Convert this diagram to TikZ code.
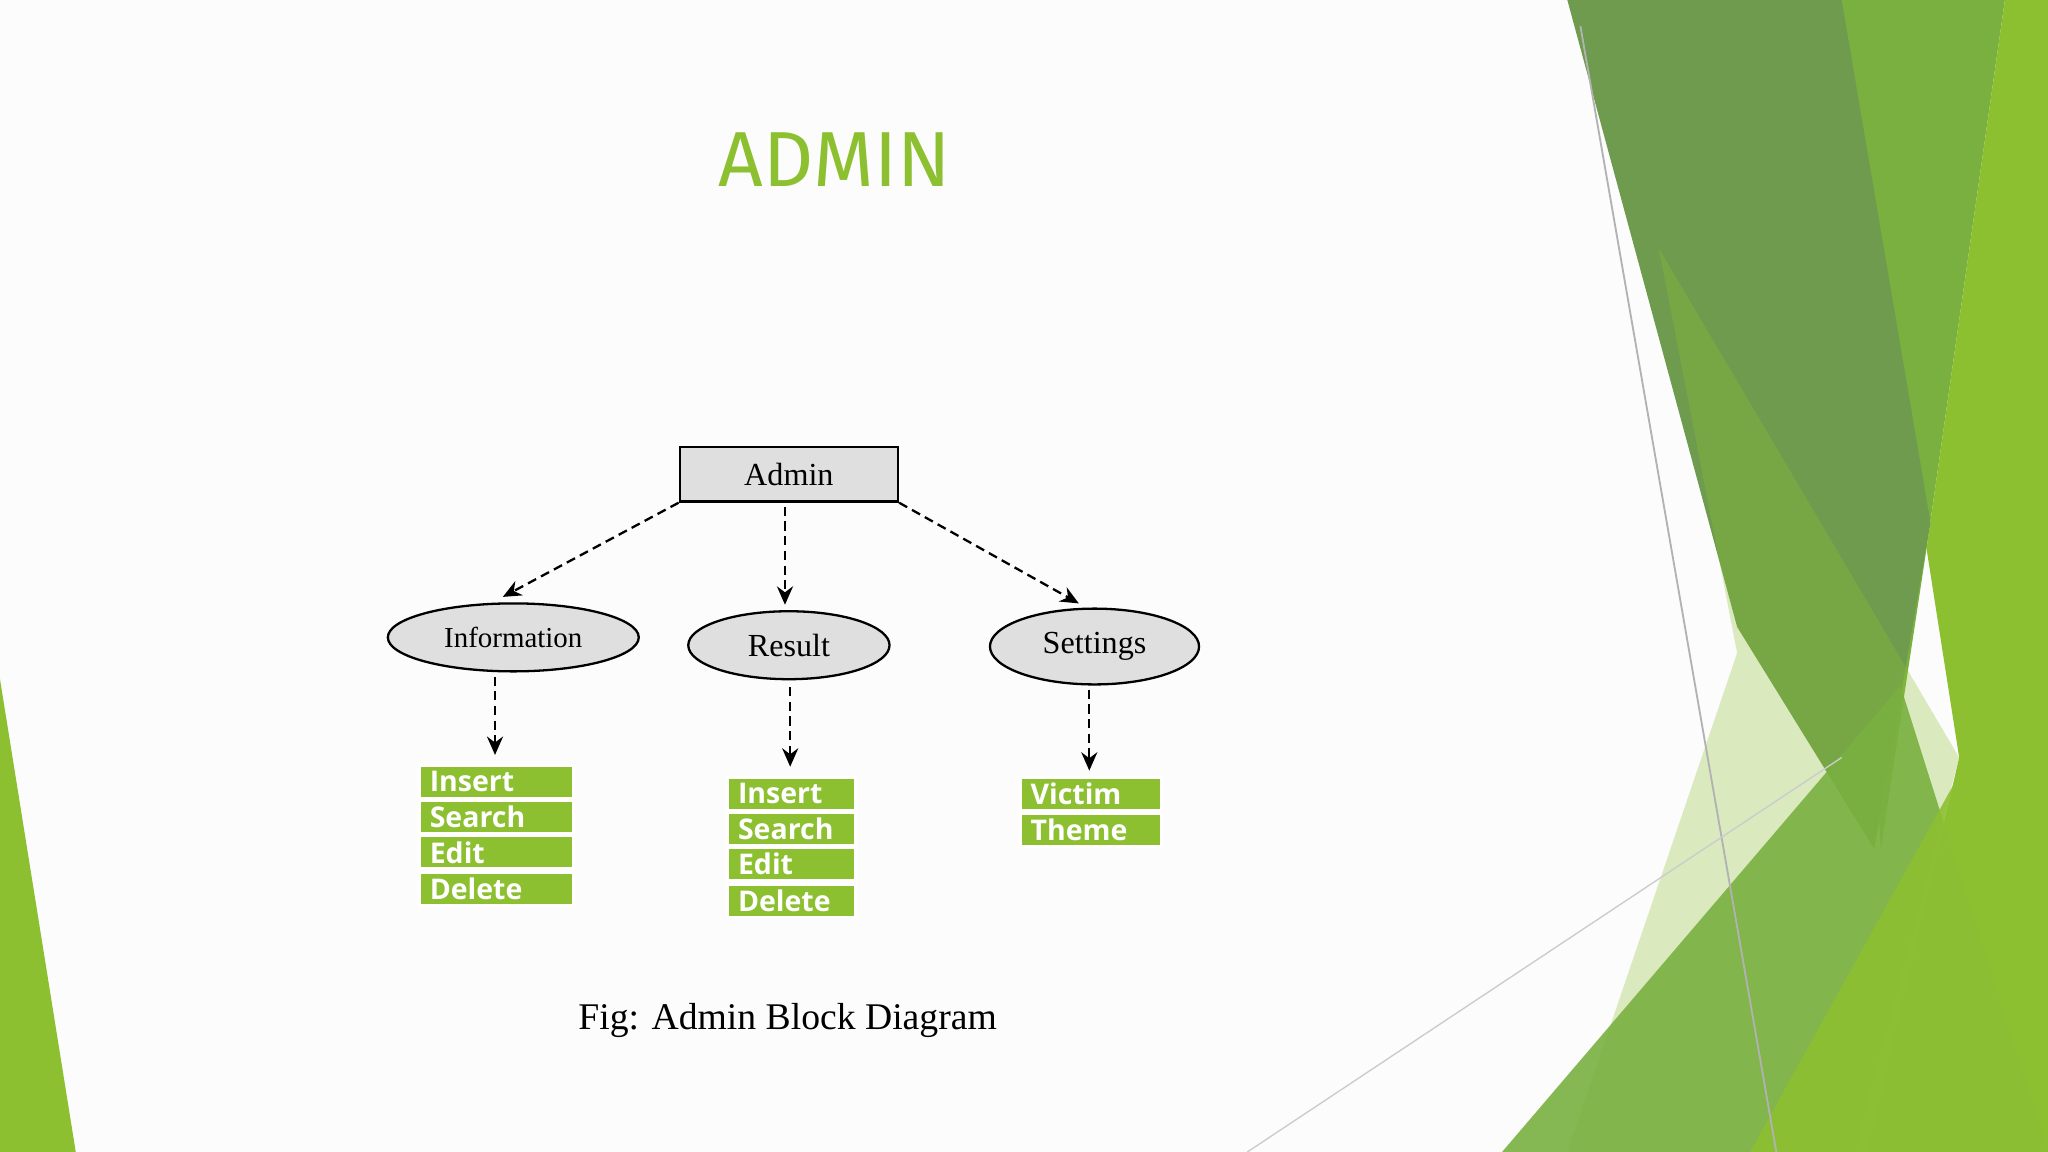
\documentclass[tikz,border=0pt]{standalone}
\usepackage{fontspec}
\setmainfont{Liberation Serif}
\newfontfamily\boxf{Open Sans}
\newfontfamily\titf{Fira Sans}
\usetikzlibrary{shapes.geometric,arrows.meta}
\definecolor{lg}{HTML}{8DC031}
\definecolor{dg}{HTML}{6E9B4E}
\definecolor{mg}{HTML}{79B040}
\begin{document}
\begin{tikzpicture}[x=0.01cm,y=-0.01cm,
 ell/.style={ellipse,draw=black,fill=gray!25,line width=0.5pt,inner sep=0pt},
 gb/.style={fill=lg,draw=white,line width=0.6pt,minimum height=0.25cm,inner ysep=0pt,anchor=north west,text=white,font=\boxf\fontsize{6.2}{7}\selectfont\bfseries,inner xsep=0.08cm,align=left},
 arr/.style={dashed,dash pattern=on 2pt off 1.2pt,line width=0.5pt,-{Stealth[length=4pt,width=3.5pt]}}]
\useasboundingbox (0,0) rectangle (1568,882);
\fill[white!98!gray] (0,0) rectangle (1568,882);
% background shapes
\fill[lg] (0,520) -- (58,882) -- (0,882) -- cycle;
\fill[mg] (1405,0) -- (1535,0) -- (1475,420) -- (1440,650) -- cycle;
\fill[lg] (1535,0) -- (1568,0) -- (1568,882) -- (1430,882) -- (1500,580) -- (1475,420) -- cycle;
\fill[dg] (1200,0) -- (1410,0) -- (1478,400) -- (1435,650) -- (1330,480) -- cycle;
\fill[lg,opacity=0.3] (1270,190) -- (1500,580) -- (1420,882) -- (1200,882) -- (1330,500) -- cycle;
\fill[mg,opacity=0.9] (1150,882) -- (1455,525) -- (1568,882) -- cycle;
\fill[lg,opacity=0.9] (1340,882) -- (1568,470) -- (1568,882) -- cycle;
\draw[gray!60,line width=0.4pt] (1210,20) -- (1360,882);
\draw[gray!40,line width=0.3pt] (955,882) -- (1410,580);
% title
\node[text=lg,font=\titf\fontsize{17}{20}\selectfont] (title) at (639,122) {ADMIN};
% main nodes
\node[draw=black,fill=gray!25,line width=0.5pt,minimum width=1.67cm,minimum height=0.42cm,font=\fontsize{7}{8}\selectfont] (admin) at (604,363) {Admin};
\node[ell,minimum width=1.92cm,minimum height=0.52cm,font=\fontsize{6.3}{8}\selectfont] (info) at (393,488) {Information};
\node[ell,minimum width=1.54cm,minimum height=0.52cm,font=\fontsize{7}{8}\selectfont] (res) at (604,494) {Result};
\node[ell,minimum width=1.60cm,minimum height=0.58cm,font=\fontsize{7}{8}\selectfont] (set) at (838,495) {Settings};
% boxes
\foreach \t/\y [count=\i] in {Insert/585,Search/612,Edit/639,Delete/667}
  \node[gb,minimum width=1.18cm,text width=1.02cm] (ia\i) at (320,\y) {\t};
\foreach \t/\y [count=\i] in {Insert/594,Search/621,Edit/648,Delete/676}
  \node[gb,minimum width=0.98cm,text width=0.82cm] (ra\i) at (556,\y) {\t};
\foreach \t/\y [count=\i] in {Victim/594,Theme/622}
  \node[gb,minimum width=1.08cm,text width=0.92cm] (sa\i) at (780,\y) {\t};
% arrows
\coordinate (e1) at (385,457);
\coordinate (s2) at (601,388);
\coordinate (e2) at (601,463);
\coordinate (e3) at (826,462);
\coordinate (s4) at (379,518);
\coordinate (e4) at (379,578);
\coordinate (s5) at (605,526);
\coordinate (e5) at (605,587);
\coordinate (s6) at (834,528);
\coordinate (e6) at (834,590);
\draw[arr] (admin.south west) -- (e1);
\draw[arr] (s2) -- (e2);
\draw[arr] (admin.south east) -- (e3);
\draw[arr] (s4) -- (e4);
\draw[arr] (s5) -- (e5);
\draw[arr] (s6) -- (e6);
% caption
\node[font=\fontsize{8.2}{10}\selectfont] (cap) at (603,781) {Fig: Admin Block Diagram};
\end{tikzpicture}
\end{document}
